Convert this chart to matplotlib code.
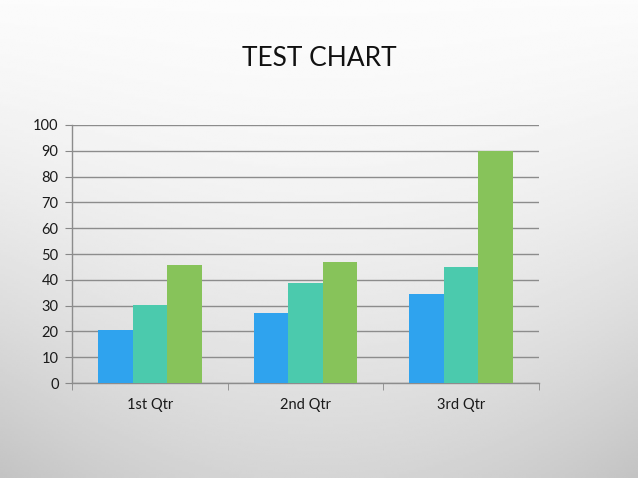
import matplotlib
matplotlib.use("Agg")
import matplotlib.pyplot as plt
import numpy as np

# Datos del gráfico
categories = ["1st Qtr", "2nd Qtr", "3rd Qtr"]
series_1 = [20.4, 27.2, 34.5]
series_2 = [30.4, 38.6, 45.0]
series_3 = [45.8, 46.8, 90.0]
y_ticks = [0, 10, 20, 30, 40, 50, 60, 70, 80, 90, 100]

colors = ["#2fa3ee", "#4bcaad", "#87c35a"]

plt.rcParams["font.family"] = ["Lato", "DejaVu Sans"]

fig = plt.figure(figsize=(6.38, 4.78), dpi=100)

# Fondo con degradado gris (más claro arriba)
bg = fig.add_axes([0, 0, 1, 1], zorder=-10)
yy = np.linspace(0, 1, 200)[:, None]
xx = np.linspace(-1, 1, 300)[None, :]
shade = 0.985 - 0.15 * yy**1.6 - 0.07 * (xx**2) * yy
bg.imshow(shade, cmap="gray", vmin=0, vmax=1, aspect="auto",
          extent=[0, 1, 0, 1], origin="upper")
bg.axis("off")

ax = fig.add_axes([0.1135, 0.1987, 0.7313, 0.5398])
ax.patch.set_alpha(0)

x = np.arange(len(categories))
w = 0.222
for i, (vals, c) in enumerate(zip([series_1, series_2, series_3], colors)):
    ax.bar(x + (i - 1) * w, vals, width=w, color=c, zorder=3)

ax.set_xlim(-0.5, len(categories) - 0.5)
ax.set_ylim(0, 100)
ax.set_yticks(y_ticks)
ax.set_xticks(x)
ax.set_xticklabels(categories)
ax.set_xticks(np.arange(-0.5, len(categories)), minor=True)
ax.tick_params(axis="x", which="major", length=0, pad=11, labelsize=10.5, labelcolor="#1a1a1a")
ax.tick_params(axis="x", which="minor", length=5, color="#888888", direction="out")
ax.tick_params(axis="y", length=5, color="#888888", labelsize=10.5, labelcolor="#1a1a1a", pad=5)

ax.grid(axis="y", color="#8c8c8c", linewidth=1, zorder=0)
for s in ["top", "right"]:
    ax.spines[s].set_visible(False)
for s in ["left", "bottom"]:
    ax.spines[s].set_color("#8c8c8c")
    ax.spines[s].set_linewidth(1)

fig.text(0.5, 0.878, "TEST CHART", ha="center", va="center",
         fontsize=19, color="#111111")

fig.savefig("out.png", dpi=100)
